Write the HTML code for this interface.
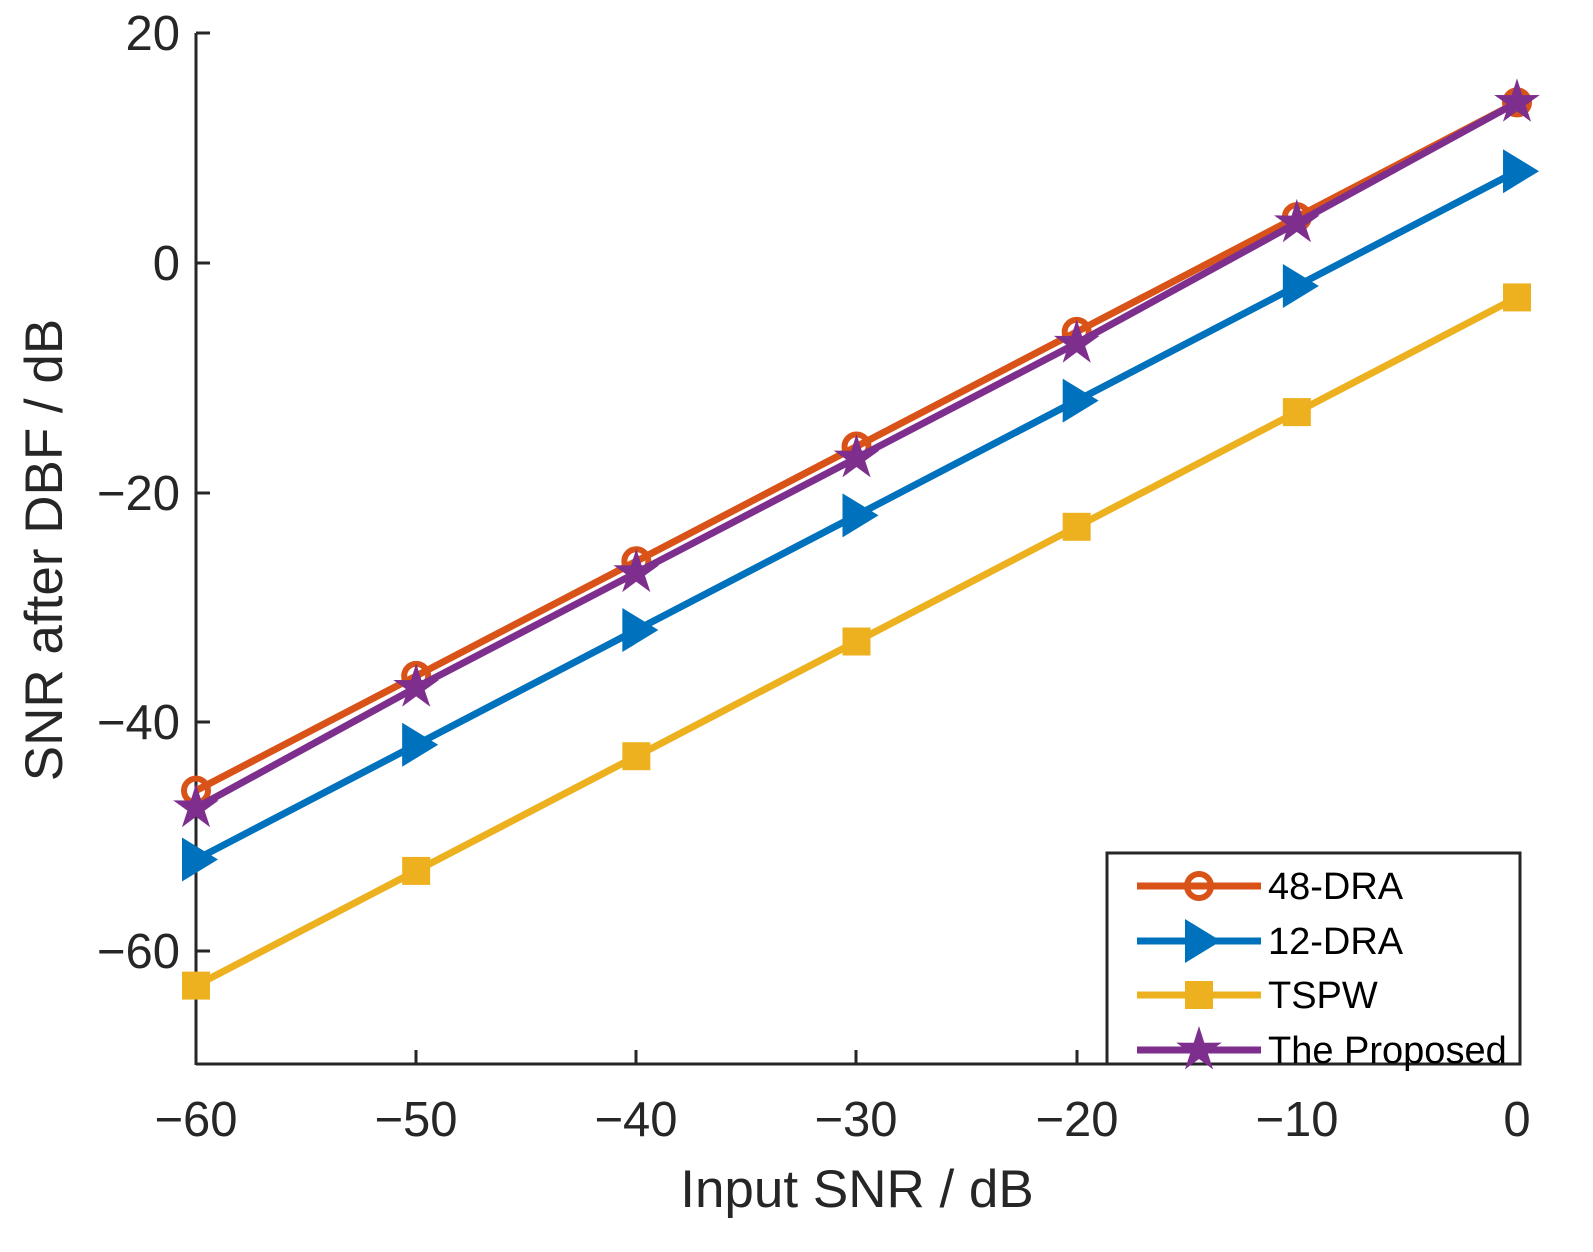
<!DOCTYPE html>
<html><head><meta charset="utf-8"><style>
html,body{margin:0;padding:0;background:#fff;}
svg{display:block;font-family:"Liberation Sans",sans-serif;}
</style></head><body>
<svg id="s" width="1593" height="1252" viewBox="0 0 1593 1252" xmlns="http://www.w3.org/2000/svg">
<g stroke="#262626" stroke-width="3" fill="none">
<line x1="196" y1="33" x2="196" y2="1065"/>
<line x1="196" y1="1064" x2="1518" y2="1064"/>
<line x1="196" y1="33" x2="210" y2="33"/>
<line x1="196" y1="263" x2="210" y2="263"/>
<line x1="196" y1="493" x2="210" y2="493"/>
<line x1="196" y1="722" x2="210" y2="722"/>
<line x1="196" y1="951" x2="210" y2="951"/>
<line x1="416" y1="1064" x2="416" y2="1050"/>
<line x1="636" y1="1064" x2="636" y2="1050"/>
<line x1="856" y1="1064" x2="856" y2="1050"/>
<line x1="1077" y1="1064" x2="1077" y2="1050"/>
<line x1="1297" y1="1064" x2="1297" y2="1050"/>
</g>
<g fill="#262626" font-size="49" text-anchor="end">
<text x="180" y="50">20</text>
<text x="180" y="280">0</text>
<text x="180" y="510">−20</text>
<text x="180" y="739">−40</text>
<text x="180" y="968">−60</text>
</g>
<g fill="#262626" font-size="49" text-anchor="middle">
<text x="196" y="1136">−60</text>
<text x="416" y="1136">−50</text>
<text x="636" y="1136">−40</text>
<text x="856" y="1136">−30</text>
<text x="1077" y="1136">−20</text>
<text x="1297" y="1136">−10</text>
<text x="1517" y="1136">0</text>
<text x="857" y="1207" font-size="53">Input SNR / dB</text>
<text transform="translate(62,550) rotate(-90)" font-size="53">SNR after DBF / dB</text>
</g>
<g id="series"></g>
<rect x="1107" y="853" width="413" height="211" fill="#fff" stroke="#262626" stroke-width="3"/>
<g id="leg"></g>
<g fill="#000" font-size="38">
<text x="1268" y="899">48-DRA</text>
<text x="1268" y="954">12-DRA</text>
<text x="1268" y="1008">TSPW</text>
<text x="1268" y="1063">The Proposed</text>
</g>
</svg>
<script>
var NS="http://www.w3.org/2000/svg";
function X(v){return 196+(v+60)*22.017;}
function Y(v){return 263-v*11.47;}
var xs=[-60,-50,-40,-30,-20,-10,0];
var S=[
 {c:"#D95319",m:"o",d:[-46,-36,-26,-16,-6,4,14]},
 {c:"#0072BD",m:"t",d:[-52,-42,-32,-22,-12,-2,8]},
 {c:"#EDB120",m:"s",d:[-63,-53,-43,-33,-23,-13,-3]},
 {c:"#7E2F8E",m:"p",d:[-47.5,-37,-27,-17,-7,3.5,14]}
];
function el(t,a,p){var e=document.createElementNS(NS,t);for(var k in a)e.setAttribute(k,a[k]);p.appendChild(e);return e;}
function marker(m,x,y,c,p){
 if(m=="o")el("circle",{cx:x,cy:y,r:12,fill:"none",stroke:c,"stroke-width":6},p);
 else if(m=="t")el("polygon",{points:(x-14)+","+(y-22)+" "+(x+22)+","+y+" "+(x-14)+","+(y+22),fill:c},p);
 else if(m=="s")el("rect",{x:x-14,y:y-14,width:28,height:28,fill:c},p);
 else{var pts=[];for(var i=0;i<10;i++){var r=i%2?9:24,a=-Math.PI/2+i*Math.PI/5;pts.push((x+r*Math.cos(a)).toFixed(1)+","+(y+r*Math.sin(a)).toFixed(1));}el("polygon",{points:pts.join(" "),fill:c},p);}
}
var g=document.getElementById("series");
S.forEach(function(s){
 el("polyline",{points:xs.map(function(v,i){return X(v)+","+Y(s.d[i]);}).join(" "),fill:"none",stroke:s.c,"stroke-width":7,"stroke-linejoin":"round"},g);
 xs.forEach(function(v,i){marker(s.m,X(v),Y(s.d[i]),s.c,g);});
});
var lg=document.getElementById("leg"),ys=[886,941,995,1050];
S.forEach(function(s,i){
 el("line",{x1:1137,y1:ys[i],x2:1261,y2:ys[i],stroke:s.c,"stroke-width":7},lg);
 marker(s.m,1199,ys[i],s.c,lg);
});
</script>
</body></html>
